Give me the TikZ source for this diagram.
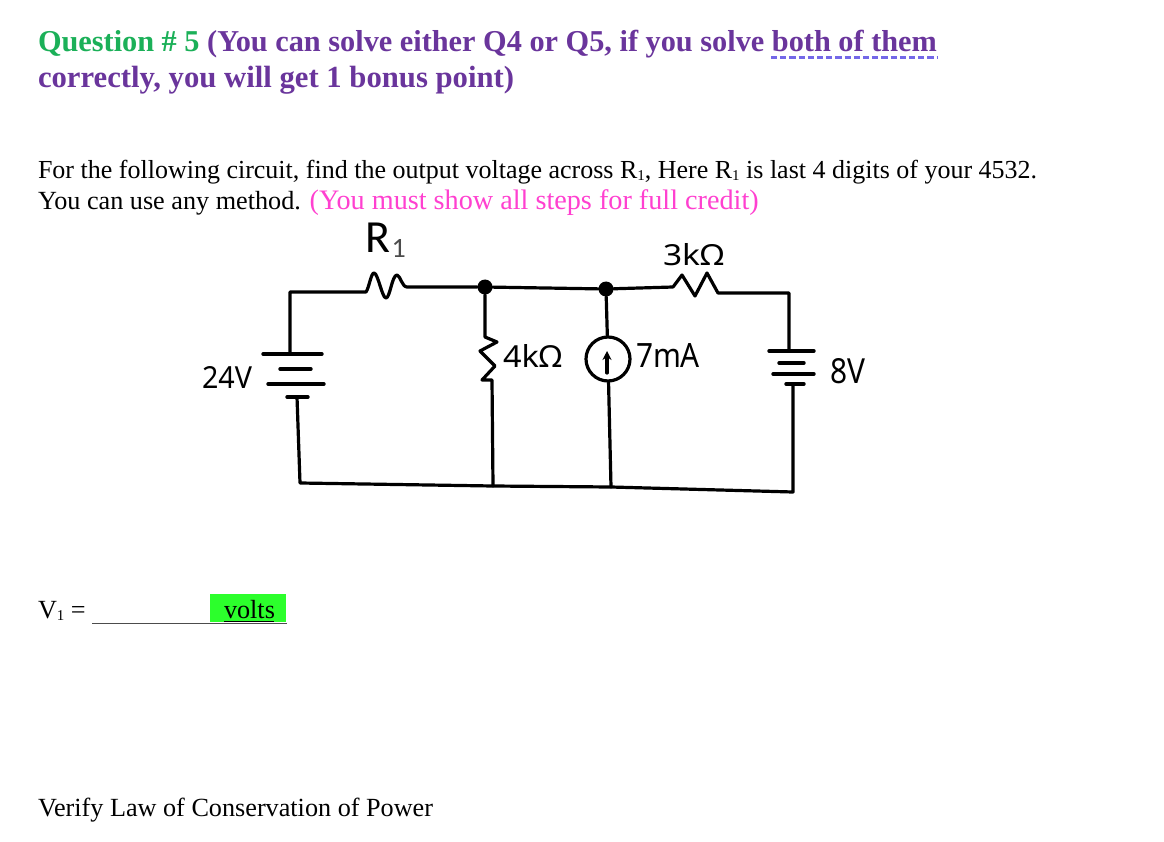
\documentclass[tikz,border=0pt]{standalone}
\usepackage{fontspec}
\usepackage{graphicx}
\setmainfont{Liberation Serif}
\newfontfamily\handfont{Noto Sans}
\newfontfamily\labelfont{Carlito}
\definecolor{qgreen}{HTML}{1BB058}
\definecolor{qpurple}{HTML}{6A359C}
\definecolor{qdash}{HTML}{7468E8}
\definecolor{qpink}{HTML}{FF40D0}
\definecolor{qhigh}{HTML}{2CFF2C}
\usetikzlibrary{arrows.meta}
\newcommand{\tinysub}[1]{\raisebox{-2.5pt}{\fontsize{15}{15}\selectfont #1}}
\newcommand{\handtext}[3]{\resizebox{#1pt}{#2pt}{\handfont\bfseries #3}}
\tikzset{
  wire/.style={line width=3.2pt,line cap=round,line join=round,black},
  plate/.style={line width=3.4pt,line cap=round,black},
  txt/.style={anchor=base west,inner sep=0pt,outer sep=0pt},
  heading/.style={txt,font=\fontsize{30.3}{32}\selectfont\bfseries,text=qpurple},
  body/.style={txt,font=\fontsize{26.2}{30}\selectfont,text=black},
  hand/.style={anchor=south west,inner sep=0pt,outer sep=0pt},
  junction/.style={circle,fill=black,minimum size=15pt,inner sep=0pt},
}
\begin{document}
\begin{tikzpicture}[x=1pt,y=-1pt]
\useasboundingbox (0,0) rectangle (1164,842);
\fill[white] (0,0) rectangle (1164,842);
% texts
\node[heading] (h1) at (38,52) {\textcolor{qgreen}{Question \# 5} (You can solve either Q4 or Q5, if you solve both of them};
\node[heading] (h2) at (38,88) {\fontsize{30.7}{32}\selectfont correctly, you will get 1 bonus point)};
\coordinate (dashA) at (771,57.5); \coordinate (dashB) at (937,57.5);
\draw[qdash,line width=3pt,dash pattern=on 6.2pt off 3pt] (dashA) -- (dashB);
\node[body] (b1) at (38,178.5) {\fontsize{26}{30}\selectfont For the following circuit, find the output voltage across R\tinysub{1}, Here R\tinysub{1} is last 4 digits of your 4532.};
\node[body] (b2) at (38,210) {You can use any method. \textcolor{qpink}{\fontsize{28.2}{30}\selectfont (You must show all steps for full credit)}};
% answer line
\fill[qhigh] (210,594) rectangle (286,622);
\coordinate (ulA) at (92,623.5); \coordinate (ulB) at (287,623.5);
\draw[black!70,line width=1.2pt] (ulA) -- (ulB);
\node[body] (v1) at (38,618) {V\tinysub{1} =};
\node[body] (volts) at (224,618) {volts};
\coordinate (ulC) at (224,621.5); \coordinate (ulD) at (274,621.5);
\draw[black,line width=1.3pt] (ulC) -- (ulD);
\node[body] (verify) at (38,816) {Verify Law of Conservation of Power};
% circuit junctions and corners
\coordinate (tl) at (290,292);
\coordinate (r1a) at (366,292);
\coordinate (r1b) at (407,287);
\node[junction] (j1) at (485,287) {};
\node[junction] (j2) at (606,289) {};
\coordinate (r3a) at (673,287);
\coordinate (r3b) at (718,293);
\coordinate (tr) at (789,293);
\coordinate (bl) at (300,483);
\coordinate (b1j) at (493,486);
\coordinate (b2j) at (611,487);
\coordinate (br) at (793,492);
% left battery
\coordinate (la) at (290,354); \coordinate (lb) at (297,397);
\draw[plate] (263,354) -- (322,354);
\draw[plate] (280,369) -- (311,369);
\draw[plate] (268,384) -- (324,384);
\draw[plate] (287,397) -- (308,397);
% right battery
\coordinate (ra) at (789,350); \coordinate (rb) at (793,385);
\draw[plate] (769,351) -- (814,351);
\draw[plate] (779,363) -- (804,363);
\draw[plate] (773,374) -- (814,374);
\draw[plate] (786,384) -- (804,384);
% current source
\node[circle,draw=black,line width=3.2pt,minimum size=44pt,inner sep=0pt] (src) at (608,359) {};
\coordinate (arA) at (607,373); \coordinate (arB) at (607,351);
\draw[wire,-{Stealth[length=9pt,width=9pt]}] (arA) -- (arB);
% wires
\draw[wire] (la) -- (tl) -- (r1a)
  .. controls (369,288) and (371,273) .. (374,273)
  .. controls (378,273) and (382,298) .. (386,298)
  .. controls (390,298) and (392,275) .. (397,275)
  .. controls (400,275) and (402,287) .. (r1b) -- (j1);
\draw[wire] (j1) -- (j2) -- (r3a) -- (682,275) -- (695,296) -- (707,273) -- (r3b) -- (tr) -- (ra);
\draw[wire] (j1) -- (485,337) -- (497,342) -- (480,351) -- (495,366) -- (482,380) -- (492,380) -- (b1j);
\draw[wire] (j2) -- (src);
\draw[wire] (src) -- (b2j);
\draw[wire] (lb) -- (bl) -- (b1j) -- (b2j) -- (br) -- (rb);
% labels
\node[anchor=base west,inner sep=0pt,font=\labelfont\fontsize{46}{48}\selectfont] (r1lab) at (365.5,253) {R};
\node[anchor=base west,inner sep=0pt,font=\labelfont\fontsize{28}{30}\selectfont,text=black!70] (r1sub) at (391.5,258) {1};
\node[hand] (l3k) at (663,266) {\handtext{61}{22}{3kΩ}};
\node[hand] (l4k) at (503,367) {\handtext{59}{23}{4kΩ}};
\node[hand] (l7) at (636,367) {\handtext{64}{24}{7mA}};
\node[hand] (l24) at (202,388) {\handtext{50}{22}{24V}};
\node[hand] (l8) at (830,384) {\handtext{35}{25}{8V}};
\end{tikzpicture}
\end{document}
